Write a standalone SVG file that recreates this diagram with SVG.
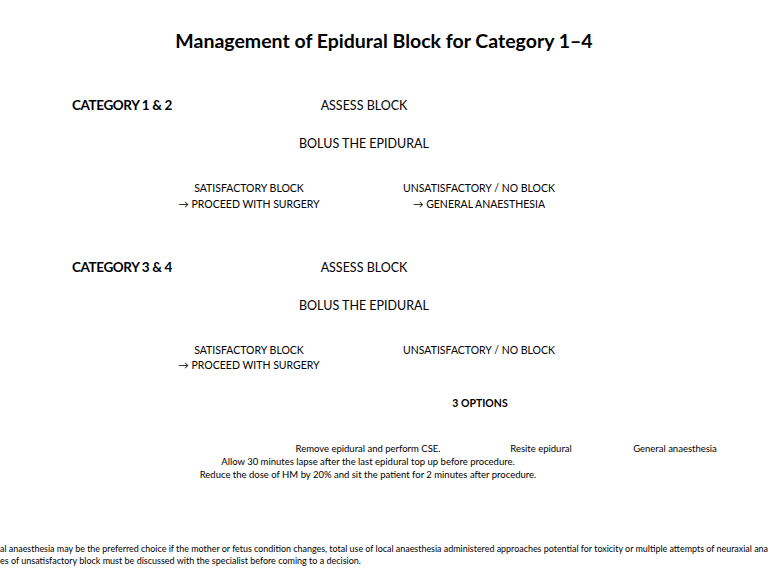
<svg xmlns="http://www.w3.org/2000/svg" width="768" height="576" viewBox="0 0 768 576">
<style>
text{font-family:Lato,"Liberation Sans",sans-serif;fill:#000}
.t{font-size:19.5px;font-weight:bold}
.c{font-size:13.5px;font-weight:bold;letter-spacing:-0.4px}
.m{font-size:12.5px}
.s{font-size:10.5px}
.f{font-size:9.5px}
.n{font-size:9px}
</style>
<rect width="768" height="576" fill="#fff"/>
<text class="t" x="384" y="48" text-anchor="middle">Management of Epidural Block for Category 1–4</text>
<g id="cat12"><text class="c" x="72" y="110">CATEGORY 1 &amp; 2</text></g>
<g id="assess1"><text class="m" x="364" y="110" text-anchor="middle">ASSESS BLOCK</text></g>
<g id="bolus1"><text class="m" x="364" y="148" text-anchor="middle">BOLUS THE EPIDURAL</text></g>
<g id="sat1"><text class="s" x="249" y="192" text-anchor="middle">SATISFACTORY BLOCK</text><text class="s" x="249" y="208" text-anchor="middle">→ PROCEED WITH SURGERY</text></g>
<g id="unsat1"><text class="s" x="479" y="192" text-anchor="middle">UNSATISFACTORY / NO BLOCK</text><text class="s" x="479" y="208" text-anchor="middle">→ GENERAL ANAESTHESIA</text></g>
<g id="cat34"><text class="c" x="72" y="272">CATEGORY 3 &amp; 4</text></g>
<g id="assess2"><text class="m" x="364" y="272" text-anchor="middle">ASSESS BLOCK</text></g>
<g id="bolus2"><text class="m" x="364" y="310" text-anchor="middle">BOLUS THE EPIDURAL</text></g>
<g id="sat2"><text class="s" x="249" y="354" text-anchor="middle">SATISFACTORY BLOCK</text><text class="s" x="249" y="369" text-anchor="middle">→ PROCEED WITH SURGERY</text></g>
<g id="unsat2"><text class="s" x="479" y="354" text-anchor="middle">UNSATISFACTORY / NO BLOCK</text></g>
<g id="opts"><text class="s" x="480" y="407" text-anchor="middle" font-weight="bold">3 OPTIONS</text></g>
<g id="o1"><text class="f" x="368" y="452" text-anchor="middle">Remove epidural and perform CSE.</text>
<text class="f" x="368" y="465" text-anchor="middle">Allow 30 minutes lapse after the last epidural top up before procedure.</text>
<text class="f" x="368" y="478" text-anchor="middle">Reduce the dose of HM by 20% and sit the patient for 2 minutes after procedure.</text></g>
<g id="o2"><text class="f" x="541" y="452" text-anchor="middle">Resite epidural</text></g>
<g id="o3"><text class="f" x="675" y="452" text-anchor="middle">General anaesthesia</text></g>
<g id="note"><text class="n" x="0" y="552" textLength="768" lengthAdjust="spacingAndGlyphs">al anaesthesia may be the preferred choice if the mother or fetus condition changes, total use of local anaesthesia administered approaches potential for toxicity or multiple attempts of neuraxial ana</text>
<text class="n" x="0" y="564">es of unsatisfactory block must be discussed with the specialist before coming to a decision.</text></g>
<g id="connectors"></g>
</svg>
